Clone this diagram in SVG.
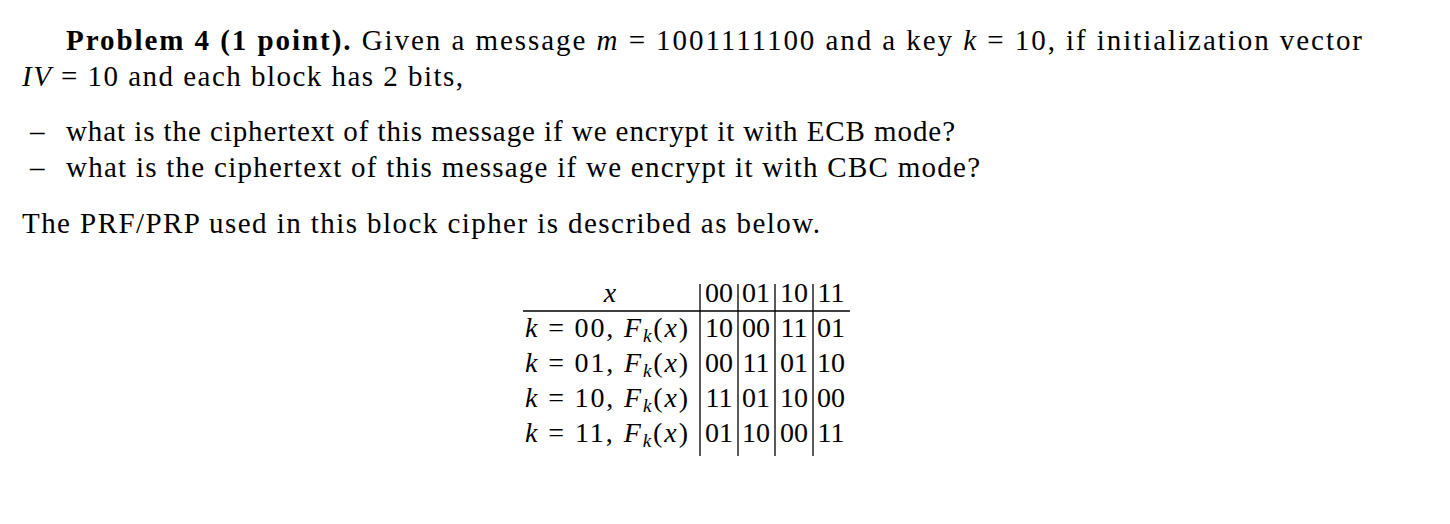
<svg xmlns="http://www.w3.org/2000/svg" width="1450" height="524" viewBox="0 0 1450 524">
<style>
text{font-family:"Liberation Serif","DejaVu Serif",serif;font-size:29px;fill:#000}
.i{font-style:italic}
.b{font-weight:bold}
.m{text-anchor:middle}
.t{font-size:28px}
line{stroke:#000;stroke-width:1.3}
</style>
<rect width="1450" height="524" fill="#fff"/>
<g id="problem">
<text x="66" y="50" textLength="1296" lengthAdjust="spacing"><tspan class="b">Problem 4 (1 point).</tspan> Given a message <tspan class="i">m</tspan> = 1001111100 and a key <tspan class="i">k</tspan> = 10, if initialization vector</text>
<text x="22" y="86" textLength="441" lengthAdjust="spacing"><tspan class="i">IV</tspan> = 10 and each block has 2 bits,</text>
<text x="30" y="141">–</text>
<text x="66" y="141" textLength="889" lengthAdjust="spacing">what is the ciphertext of this message if we encrypt it with ECB mode?</text>
<text x="30" y="177">–</text>
<text x="66" y="177" textLength="914" lengthAdjust="spacing">what is the ciphertext of this message if we encrypt it with CBC mode?</text>
<text x="22" y="233" textLength="798" lengthAdjust="spacing">The PRF/PRP used in this block cipher is described as below.</text>
</g>
<g id="table" class="t">
<line x1="523" y1="311" x2="850" y2="311"/>
<line x1="700" y1="284" x2="700" y2="456"/>
<line x1="738" y1="284" x2="738" y2="456"/>
<line x1="775" y1="284" x2="775" y2="456"/>
<line x1="813" y1="284" x2="813" y2="456"/>
<text x="610" y="302" class="t i m">x</text>
<text x="719" y="302" class="t m">00</text><text x="756" y="302" class="t m">01</text><text x="794" y="302" class="t m">10</text><text x="831" y="302" class="t m">11</text>
<text x="525" y="337" class="t" textLength="163" lengthAdjust="spacing"><tspan class="i">k</tspan> = 00, <tspan class="i">F</tspan><tspan class="i" font-size="19" dy="5">k</tspan><tspan dy="-5">(</tspan><tspan class="i">x</tspan>)</text>
<text x="719" y="337" class="t m">10</text><text x="756" y="337" class="t m">00</text><text x="794" y="337" class="t m">11</text><text x="831" y="337" class="t m">01</text>
<text x="525" y="372" class="t" textLength="163" lengthAdjust="spacing"><tspan class="i">k</tspan> = 01, <tspan class="i">F</tspan><tspan class="i" font-size="19" dy="5">k</tspan><tspan dy="-5">(</tspan><tspan class="i">x</tspan>)</text>
<text x="719" y="372" class="t m">00</text><text x="756" y="372" class="t m">11</text><text x="794" y="372" class="t m">01</text><text x="831" y="372" class="t m">10</text>
<text x="525" y="407" class="t" textLength="163" lengthAdjust="spacing"><tspan class="i">k</tspan> = 10, <tspan class="i">F</tspan><tspan class="i" font-size="19" dy="5">k</tspan><tspan dy="-5">(</tspan><tspan class="i">x</tspan>)</text>
<text x="719" y="407" class="t m">11</text><text x="756" y="407" class="t m">01</text><text x="794" y="407" class="t m">10</text><text x="831" y="407" class="t m">00</text>
<text x="525" y="442" class="t" textLength="163" lengthAdjust="spacing"><tspan class="i">k</tspan> = 11, <tspan class="i">F</tspan><tspan class="i" font-size="19" dy="5">k</tspan><tspan dy="-5">(</tspan><tspan class="i">x</tspan>)</text>
<text x="719" y="442" class="t m">01</text><text x="756" y="442" class="t m">10</text><text x="794" y="442" class="t m">00</text><text x="831" y="442" class="t m">11</text>
</g>
</svg>
